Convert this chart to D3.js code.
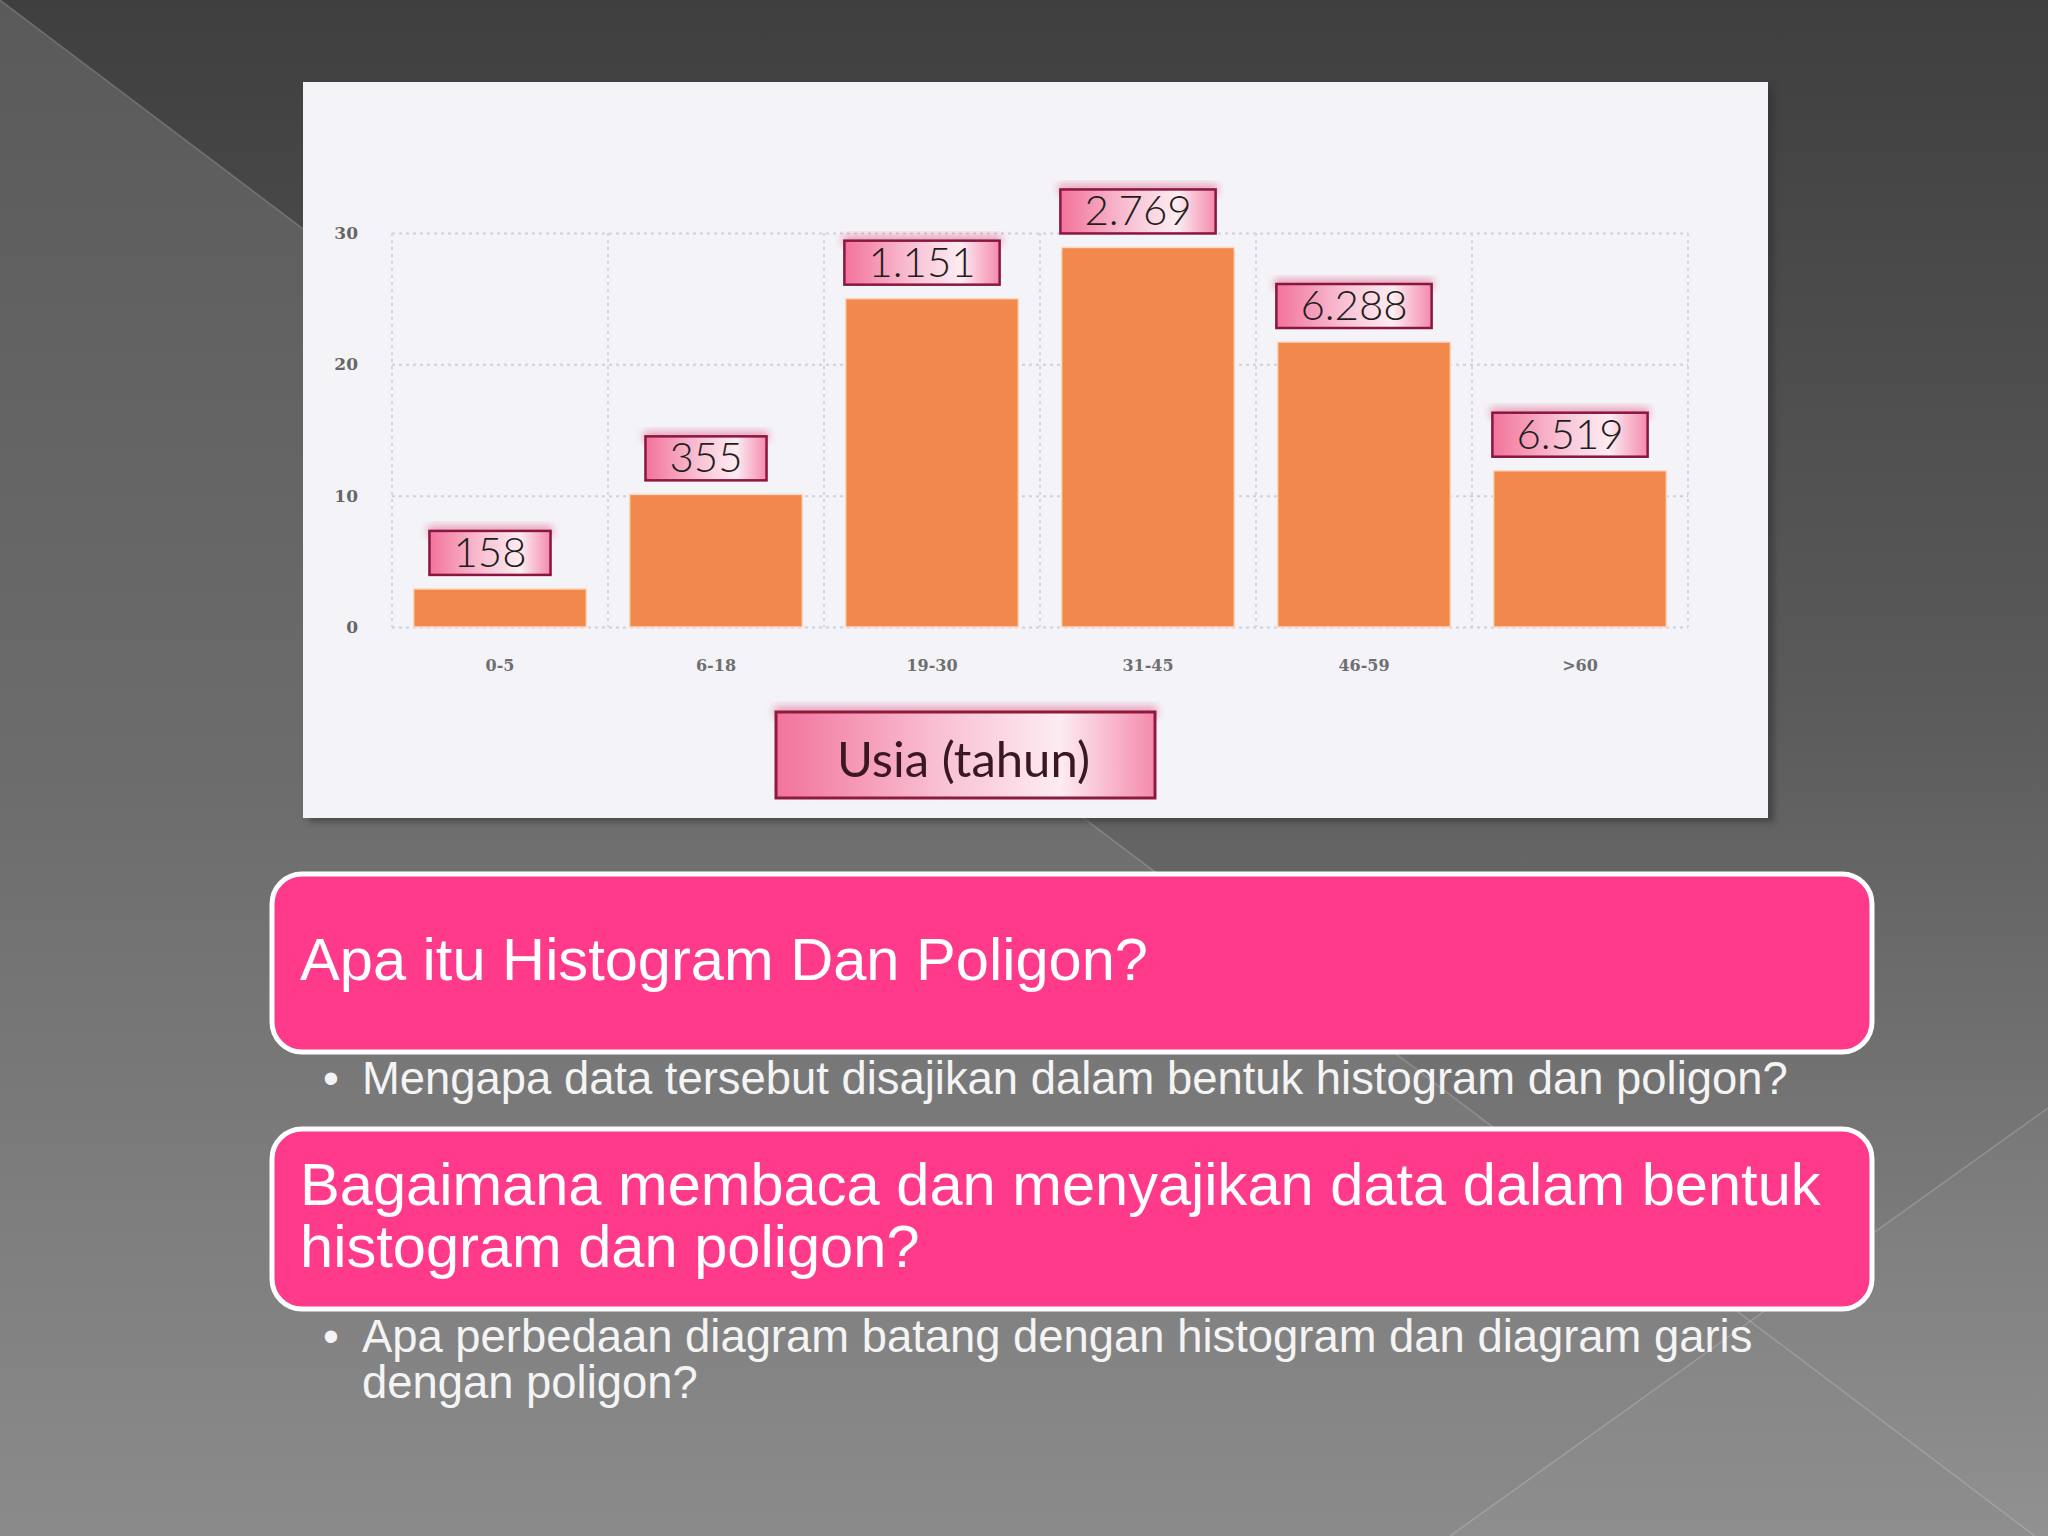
<!DOCTYPE html>
<html>
<head>
<meta charset="utf-8">
<script src="https://cdn.jsdelivr.net/npm/d3@7"></script>
<style>
  html, body { margin: 0; padding: 0; background: #555; }
  svg { display: block; }
</style>
</head>
<body>
<script>
// ---------------- DATA ----------------
const categories = ["0-5", "6-18", "19-30", "31-45", "46-59", ">60"];
const values = [2.9, 10.1, 25, 28.9, 21.7, 11.9];
const valueLabels = ["158", "355", "1.151", "2.769", "6.288", "6.519"];
const yTicks = [0, 10, 20, 30];
const axisTitle = "Usia (tahun)";
const heading1 = ["Apa itu Histogram Dan Poligon?"];
const bullet1 = ["Mengapa data tersebut disajikan dalam bentuk histogram dan poligon?"];
const heading2 = ["Bagaimana membaca dan menyajikan data dalam bentuk", "histogram dan poligon?"];
const bullet2 = ["Apa perbedaan diagram batang dengan histogram dan diagram garis", "dengan poligon?"];

// ---------------- SETUP ----------------
const W = 2048, H = 1536;
const svg = d3.select("body").append("svg").attr("width", W).attr("height", H);
const defs = svg.append("defs");

// background gradients
const bgGrad = defs.append("linearGradient").attr("id", "bg").attr("x1", 0).attr("y1", 0).attr("x2", 0).attr("y2", 1);
bgGrad.append("stop").attr("offset", "0%").attr("stop-color", "#3f3f3f");
bgGrad.append("stop").attr("offset", "45%").attr("stop-color", "#5a5a5a");
bgGrad.append("stop").attr("offset", "100%").attr("stop-color", "#8e8e8e");

const leftGrad = defs.append("linearGradient").attr("id", "bgLeft").attr("x1", 0).attr("y1", 0).attr("x2", 0).attr("y2", 1);
leftGrad.append("stop").attr("offset", "0%").attr("stop-color", "#5a5a5a");
leftGrad.append("stop").attr("offset", "50%").attr("stop-color", "#6c6c6c");
leftGrad.append("stop").attr("offset", "100%").attr("stop-color", "#8b8b8b");

const pinkGrad = defs.append("linearGradient").attr("id", "pinkBox").attr("x1", 0).attr("y1", 0).attr("x2", 1).attr("y2", 0);
pinkGrad.append("stop").attr("offset", "0%").attr("stop-color", "#f2739b");
pinkGrad.append("stop").attr("offset", "45%").attr("stop-color", "#f9c3d5");
pinkGrad.append("stop").attr("offset", "75%").attr("stop-color", "#fdecf2");
pinkGrad.append("stop").attr("offset", "100%").attr("stop-color", "#f48aac");

const glow = defs.append("filter").attr("id", "glow").attr("x", "-20%").attr("y", "-40%").attr("width", "140%").attr("height", "180%");
glow.append("feGaussianBlur").attr("stdDeviation", 4);

const shadow = defs.append("filter").attr("id", "shadow").attr("x", "-5%").attr("y", "-5%").attr("width", "110%").attr("height", "110%");
shadow.append("feGaussianBlur").attr("stdDeviation", 3);

// background
svg.append("rect").attr("width", W).attr("height", H).attr("fill", "url(#bg)");
svg.append("path").attr("d", "M0,0 L2048,1546 L0,1546 Z").attr("fill", "url(#bgLeft)");
svg.append("path").attr("d", "M2048,1108 L1450,1536 L2048,1536 Z").attr("fill", "#ffffff").attr("opacity", 0.03);
svg.append("line").attr("x1", 0).attr("y1", 0).attr("x2", 2048).attr("y2", 1546)
  .attr("stroke", "#ffffff").attr("stroke-opacity", 0.18).attr("stroke-width", 1.5);
svg.append("line").attr("x1", 2048).attr("y1", 1108).attr("x2", 1450).attr("y2", 1536)
  .attr("stroke", "#ffffff").attr("stroke-opacity", 0.18).attr("stroke-width", 1.5);

// ---------------- CHART PANEL ----------------
const panel = { x: 303, y: 82, w: 1465, h: 736 };
svg.append("rect").attr("x", panel.x + 6).attr("y", panel.y + 4).attr("width", panel.w).attr("height", panel.h)
  .attr("fill", "#2e2e2e").attr("opacity", 0.55).attr("filter", "url(#shadow)");
svg.append("rect").attr("x", panel.x).attr("y", panel.y).attr("width", panel.w).attr("height", panel.h)
  .attr("fill", "#f4f4f8");

const x = d3.scaleBand().domain(categories).range([392, 1688]).paddingInner(0.2).paddingOuter(0.1);
const y = d3.scaleLinear().domain([0, 30]).range([627, 233]);
const plotL = x.range()[0], plotR = x.range()[1];

const chart = svg.append("g");

// horizontal gridlines
const hGrid = chart.append("g").attr("transform", `translate(${plotL},0)`)
  .call(d3.axisLeft(y).tickValues(yTicks).tickSize(-(plotR - plotL)).tickFormat(""));
hGrid.select(".domain").remove();
hGrid.selectAll("line").attr("stroke", "#cfd0da").attr("stroke-width", 2).attr("stroke-dasharray", "3,4");

// vertical gridlines at band boundaries
const boundaries = categories.map(c => x(c) - (x.step() - x.bandwidth()) / 2);
boundaries.push(boundaries[boundaries.length - 1] + x.step());
chart.append("g").selectAll("line").data(boundaries).join("line")
  .attr("x1", d => d).attr("x2", d => d)
  .attr("y1", y(30)).attr("y2", y(0))
  .attr("stroke", "#d4d5df").attr("stroke-width", 2).attr("stroke-dasharray", "3,4");

// y axis labels
const yAxis = chart.append("g").attr("transform", `translate(${plotL},0)`)
  .call(d3.axisLeft(y).tickValues(yTicks).tickSize(0).tickPadding(34));
yAxis.select(".domain").remove();
yAxis.selectAll("text").attr("font-family", "'DejaVu Serif', serif").attr("font-weight", "bold")
  .attr("font-size", 17).attr("fill", "#666666");

// x axis labels
const xAxis = chart.append("g").attr("transform", `translate(0,${y(0)})`)
  .call(d3.axisBottom(x).tickSize(0).tickPadding(33));
xAxis.select(".domain").remove();
xAxis.selectAll("text").attr("font-family", "'DejaVu Serif', serif").attr("font-weight", "bold")
  .attr("font-size", 16).attr("fill", "#6f6f6f");

// bars
chart.append("g").selectAll("rect").data(values).join("rect")
  .attr("x", (d, i) => x(categories[i]))
  .attr("y", d => y(d))
  .attr("width", x.bandwidth())
  .attr("height", d => y(0) - y(d))
  .attr("fill", "#f2884b")
  .attr("stroke", "#fbd9c4").attr("stroke-width", 1.5);

// value label boxes
const labelG = chart.append("g");
values.forEach((v, i) => {
  const cx = x(categories[i]) + x.bandwidth() / 2 - 10;
  const bottom = y(v) - 14;
  const g = labelG.append("g");
  const t = g.append("text").attr("x", cx).attr("y", bottom - 8)
    .attr("text-anchor", "middle")
    .attr("font-family", "Lato, 'DejaVu Sans', sans-serif").attr("font-weight", 300)
    .attr("font-size", 42).attr("fill", "#1e1e1e")
    .text(valueLabels[i]);
  const tw = t.node().getComputedTextLength();
  const bw = tw + 48, bh = 44;
  g.insert("rect", "text").attr("x", cx - bw / 2 - 2).attr("y", bottom - bh - 5).attr("width", bw + 4).attr("height", 10)
    .attr("fill", "#e0507f").attr("opacity", 0.55).attr("filter", "url(#glow)");
  g.insert("rect", "text").attr("x", cx - bw / 2).attr("y", bottom - bh).attr("width", bw).attr("height", bh)
    .attr("fill", "url(#pinkBox)").attr("stroke", "#8a1640").attr("stroke-width", 2.5);
});

// axis title box
const tb = { x: 776, y: 712, w: 379, h: 86 };
chart.append("rect").attr("x", tb.x - 2).attr("y", tb.y - 6).attr("width", tb.w + 4).attr("height", 12)
  .attr("fill", "#e0507f").attr("opacity", 0.5).attr("filter", "url(#glow)");
chart.append("rect").attr("x", tb.x).attr("y", tb.y).attr("width", tb.w).attr("height", tb.h)
  .attr("fill", "url(#pinkBox)").attr("stroke", "#8e1a3c").attr("stroke-width", 3);
chart.append("text").attr("x", tb.x + tb.w / 2 - 2).attr("y", 777)
  .attr("text-anchor", "middle")
  .attr("font-family", "Lato, 'DejaVu Sans', sans-serif").attr("font-size", 49).attr("fill", "#3a1822")
  .text(axisTitle);

// ---------------- TEXT BOXES ----------------
function pinkBox(x0, y0, w, h) {
  svg.append("rect").attr("x", x0).attr("y", y0).attr("width", w).attr("height", h)
    .attr("rx", 30).attr("ry", 30)
    .attr("fill", "#ff3a8a").attr("stroke", "#ffffff").attr("stroke-width", 5);
}
pinkBox(272, 874, 1600, 178);
pinkBox(272, 1129, 1600, 180);

const titleFont = "'Liberation Sans', Arial, sans-serif";
svg.append("g").selectAll("text").data(heading1).join("text")
  .attr("x", 300).attr("y", (d, i) => 980 + i * 62)
  .attr("font-family", titleFont).attr("font-size", 59.6).attr("fill", "#ffffff").text(d => d);
svg.append("g").selectAll("text").data(heading2).join("text")
  .attr("x", 300).attr("y", (d, i) => 1205 + i * 62)
  .attr("font-family", titleFont).attr("font-size", 59.6).attr("fill", "#ffffff").text(d => d);

function bullets(lines, baseY) {
  const g = svg.append("g");
  g.append("text").attr("x", 331).attr("y", baseY).attr("text-anchor", "middle")
    .attr("font-family", titleFont).attr("font-size", 45.4).attr("fill", "#f4f4f4").text("•");
  g.selectAll("text.line").data(lines).join("text").attr("class", "line")
    .attr("x", 362).attr("y", (d, i) => baseY + i * 46)
    .attr("font-family", titleFont).attr("font-size", 45.4).attr("fill", "#f4f4f4").text(d => d);
}
bullets(bullet1, 1094);
bullets(bullet2, 1352);
</script>
</body>
</html>
